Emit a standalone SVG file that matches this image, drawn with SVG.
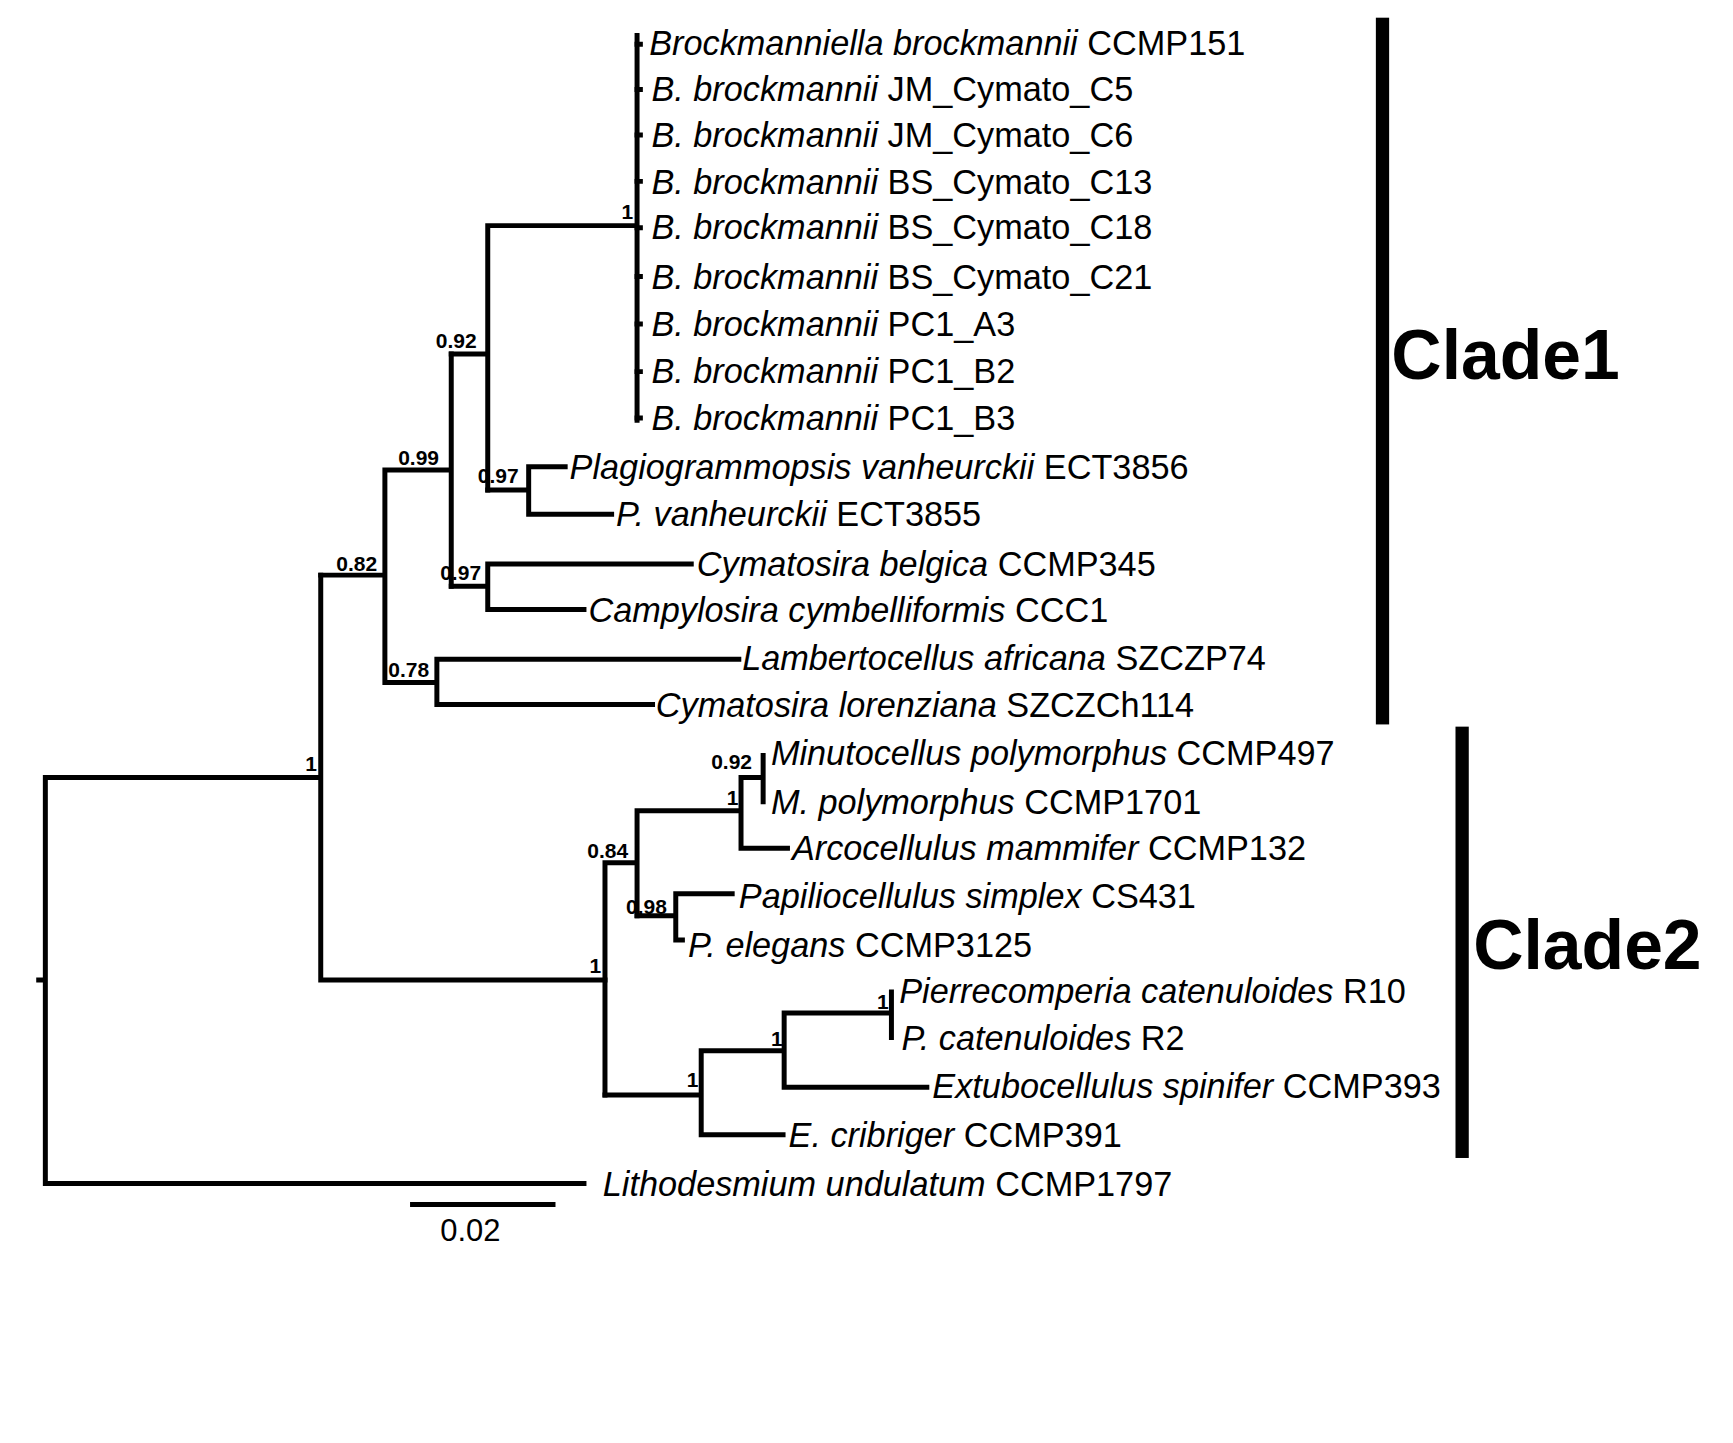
<svg xmlns="http://www.w3.org/2000/svg" width="1733" height="1443" viewBox="0 0 1733 1443">
<style>
.b{fill:none;stroke:#000;stroke-width:4.5;stroke-linecap:square}
.t{font-family:"Liberation Sans",Arial,sans-serif;font-size:31px;fill:#000}
.i{font-style:italic}
.s{font-family:"Liberation Sans",Arial,sans-serif;font-size:19px;font-weight:bold;fill:#000}
.c{font-family:"Liberation Sans",Arial,sans-serif;font-size:63px;font-weight:bold;fill:#000}
</style>
<rect width="1733" height="1443" fill="#fff"/>
<g transform="scale(1.106)">
<g id="connectors" class="b">
<path d="M35,886H41M41,703V1070H528M41,703H290M290,520V886H547"/>
<path d="M290,520H348M348,425V617M348,425H408M408,320V530M348,617H395M395,596V637M395,596H668M395,637H590"/>
<path d="M408,320H441M441,204V443M441,204H576M576,32V380"/>
<path d="M576,40H579M576,81H579M576,122H579M576,164H579M576,206H579M576,250H579M576,293H579M576,336H579M576,378H579"/>
<path d="M441,443H478M478,422V465M478,422H511M478,465H553"/>
<path d="M408,530H441M441,510V551M441,510H625M441,551H528"/>
<path d="M547,780V990M547,780H576M576,733V828M576,733H670M670,703V767M670,703H690M690,683V725M670,767H712"/>
<path d="M576,828H611M611,808V850M611,808H662M611,850H617"/>
<path d="M547,990H634M634,950V1026M634,950H709M709,916V983M709,916H806M806,897V938M709,983H838M634,1026H708"/>
<path d="M373,1089H500"/>
</g>
<g id="support" class="s">
<text x="276" y="697">1</text><text x="304" y="516">0.82</text><text x="360" y="420">0.99</text>
<text x="351" y="612">0.78</text><text x="394" y="315">0.92</text><text x="398" y="524">0.97</text>
<text x="562" y="198">1</text><text x="432" y="437">0.97</text><text x="533" y="880">1</text>
<text x="531" y="776">0.84</text><text x="657" y="728">1</text><text x="643" y="695">0.92</text>
<text x="566" y="826">0.98</text><text x="621" y="983">1</text><text x="697" y="946">1</text><text x="793" y="912">1</text>
</g>
<g id="leaves" class="t">
<text x="587" y="50"><tspan class="i">Brockmanniella brockmannii</tspan> CCMP151</text>
<text x="589" y="91"><tspan class="i">B. brockmannii</tspan> JM_Cymato_C5</text>
<text x="589" y="133"><tspan class="i">B. brockmannii</tspan> JM_Cymato_C6</text>
<text x="589" y="175"><tspan class="i">B. brockmannii</tspan> BS_Cymato_C13</text>
<text x="589" y="216"><tspan class="i">B. brockmannii</tspan> BS_Cymato_C18</text>
<text x="589" y="261"><tspan class="i">B. brockmannii</tspan> BS_Cymato_C21</text>
<text x="589" y="304"><tspan class="i">B. brockmannii</tspan> PC1_A3</text>
<text x="589" y="346"><tspan class="i">B. brockmannii</tspan> PC1_B2</text>
<text x="589" y="389"><tspan class="i">B. brockmannii</tspan> PC1_B3</text>
<text x="515" y="433"><tspan class="i">Plagiogrammopsis vanheurckii</tspan> ECT3856</text>
<text x="557" y="476"><tspan class="i">P. vanheurckii</tspan> ECT3855</text>
<text x="630" y="521"><tspan class="i">Cymatosira belgica</tspan> CCMP345</text>
<text x="532" y="562"><tspan class="i">Campylosira cymbelliformis</tspan> CCC1</text>
<text x="671" y="606"><tspan class="i">Lambertocellus africana</tspan> SZCZP74</text>
<text x="593" y="648"><tspan class="i">Cymatosira lorenziana</tspan> SZCZCh114</text>
<text x="697" y="692"><tspan class="i">Minutocellus polymorphus</tspan> CCMP497</text>
<text x="697" y="736"><tspan class="i">M. polymorphus</tspan> CCMP1701</text>
<text x="716" y="778"><tspan class="i">Arcocellulus mammifer</tspan> CCMP132</text>
<text x="668" y="821"><tspan class="i">Papiliocellulus simplex</tspan> CS431</text>
<text x="622" y="865"><tspan class="i">P. elegans</tspan> CCMP3125</text>
<text x="813" y="907"><tspan class="i">Pierrecomperia catenuloides</tspan> R10</text>
<text x="815" y="949"><tspan class="i">P. catenuloides</tspan> R2</text>
<text x="843" y="993"><tspan class="i">Extubocellulus spinifer</tspan> CCMP393</text>
<text x="713" y="1037"><tspan class="i">E. cribriger</tspan> CCMP391</text>
<text x="545" y="1081"><tspan class="i">Lithodesmium undulatum</tspan> CCMP1797</text>
<text x="398" y="1122" font-size="28">0.02</text>
</g>
<g id="clade1"><rect x="1244" y="16" width="12" height="639"/><text class="c" x="1258" y="343">Clade1</text></g>
<g id="clade2"><rect x="1316" y="657" width="12" height="390"/><text class="c" x="1332" y="876">Clade2</text></g>
</g>
</svg>
